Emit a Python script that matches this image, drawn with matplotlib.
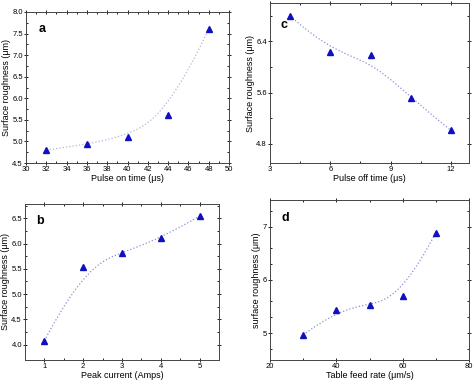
import numpy as np
import matplotlib
matplotlib.use("Agg")
import matplotlib.pyplot as plt
from matplotlib.ticker import FormatStrFormatter

plt.rcParams['font.family'] = ['Liberation Sans', 'DejaVu Sans']

# data
pulse_on = [32, 36, 40, 44, 48]
sr_on = [4.80, 4.93, 5.10, 5.62, 7.60]

peak_current = [1, 2, 3, 4, 5]
sr_current = [4.08, 5.53, 5.82, 6.10, 6.54]

pulse_off = [4, 6, 8, 10, 12]
sr_off = [6.80, 6.23, 6.18, 5.51, 5.01]

feed_rate = [30, 40, 50, 60, 70]
sr_feed = [4.97, 5.43, 5.53, 5.70, 6.89]

W, H = 474, 384
fig = plt.figure(figsize=(W / 100, H / 100), dpi=100)


def bspline(px, py, n=200, k=3):
    # clamped B-spline using the points as control points (origin "B-spline" line)
    px, py = np.asarray(px, float), np.asarray(py, float)
    m = len(px)
    inner = np.linspace(0, 1, m - k + 1)
    knots = np.r_[[0] * k, inner, [1] * k]
    t = np.linspace(0, 1, n)
    t[-1] -= 1e-9
    N = np.zeros((n, len(knots) - 1))
    for i in range(len(knots) - 1):
        N[:, i] = (t >= knots[i]) & (t < knots[i + 1])
    for d in range(1, k + 1):
        Nn = np.zeros((n, len(knots) - 1 - d))
        for i in range(len(knots) - 1 - d):
            a = knots[i + d] - knots[i]
            b = knots[i + d + 1] - knots[i + 1]
            left = (t - knots[i]) / a * N[:, i] if a > 0 else 0
            right = (knots[i + d + 1] - t) / b * N[:, i + 1] if b > 0 else 0
            Nn[:, i] = left + right
        N = Nn
    return N @ px, N @ py


def px_axes(l, t, r, b):
    return fig.add_axes([l / W, 1 - b / H, (r - l) / W, (b - t) / H])


def panel(ax, x, y, letter, xlabel, ylabel, xlim, ylim, xticks, xminor, yticks, yminor,
          lcolor='#8c8fd8', lpos=(0.06, 0.89)):
    xs, ys = bspline(x, y)
    ax.plot(xs, ys, ls=':', color=lcolor, lw=0.9)
    ax.plot(x, y, '^', color='#1010c0', ms=3.8, mec='#1010c0')
    ax.set_xlim(*xlim)
    ax.set_ylim(*ylim)
    ax.set_xticks(xticks)
    ax.set_xticks(xminor, minor=True)
    ax.set_yticks(yticks)
    ax.set_yticks(yminor, minor=True)
    ax.tick_params(which='both', top=True, right=True,
                   labelsize=5.5, width=0.6, pad=1)
    ax.tick_params(which='major', length=2.4, direction='inout')
    ax.tick_params(which='minor', length=1.5, direction='in')
    for s in ax.spines.values():
        s.set_linewidth(0.7)
        s.set_color('#444444')
    ax.set_xlabel(xlabel, fontsize=6.5, labelpad=1)
    ax.set_ylabel(ylabel, fontsize=6.5, labelpad=1)
    ax.text(lpos[0], lpos[1], letter, transform=ax.transAxes, fontsize=9,
            fontweight='bold', va='center', ha='left')


ax_a = px_axes(26, 12, 229, 163)
panel(ax_a, pulse_on, sr_on, 'a', 'Pulse on time (\u03bcs)', 'Surface roughness (\u03bcm)',
      (30, 50), (4.5, 8.0), np.arange(30, 51, 2), np.arange(31, 50, 2),
      np.arange(4.5, 8.01, 0.5), np.arange(4.75, 8.0, 0.5), lcolor='#b4b6d8')

ax_c = px_axes(270, 3, 469, 163)
panel(ax_c, pulse_off, sr_off, 'c', 'Pulse off time (\u03bcs)', 'Surface roughness (\u03bcm)',
      (3, 12.9), (4.5, 7.0), [3, 6, 9, 12], [4.5, 7.5, 10.5],
      [4.8, 5.6, 6.4], [5.2, 6.0, 6.8], lpos=(0.055, 0.86))
ax_c.yaxis.set_major_formatter(FormatStrFormatter('%.1f'))

ax_b = px_axes(25, 204, 219, 360)
panel(ax_b, peak_current, sr_current, 'b', 'Peak current (Amps)', 'Surface roughness (\u03bcm)',
      (0.5, 5.5), (3.7, 6.78), [1, 2, 3, 4, 5], [1.5, 2.5, 3.5, 4.5],
      np.arange(4.0, 6.51, 0.5), np.arange(4.25, 6.76, 0.5))

ax_d = px_axes(270, 200, 469, 360)
panel(ax_d, feed_rate, sr_feed, 'd', 'Table feed rate (\u03bcm/s)', 'surface roughness (\u03bcm)',
      (20, 80), (4.5, 7.5), [20, 40, 60, 80], [30, 50, 70],
      [5, 6, 7], [4.7, 5.3, 5.6, 6.3, 6.6, 7.3])

fig.savefig('out.png', dpi=100)
